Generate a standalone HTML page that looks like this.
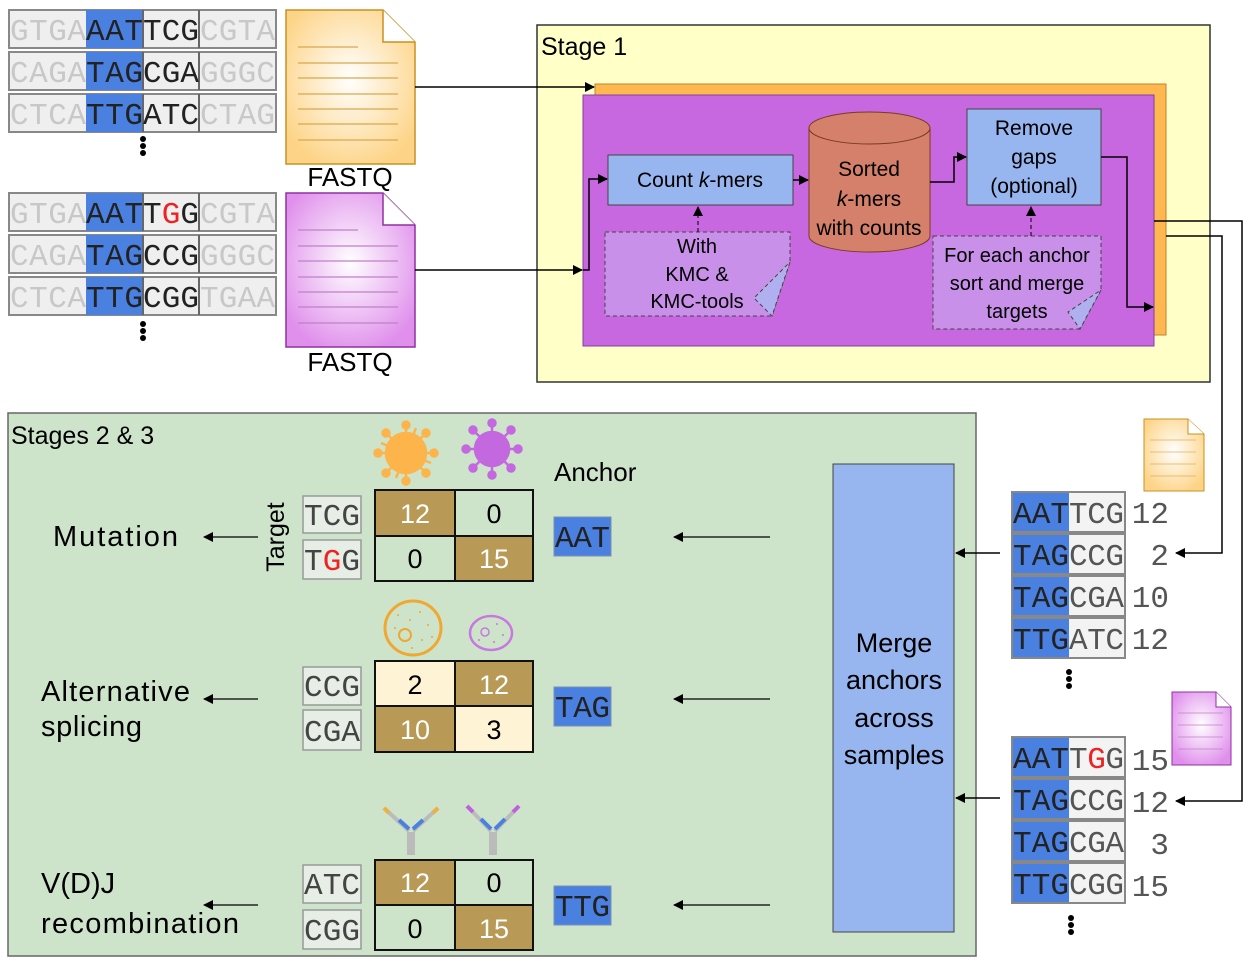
<!DOCTYPE html>
<html><head><meta charset="utf-8"><style>
html,body{margin:0;padding:0;background:#fff}
svg{display:block}
.m{font-family:"Liberation Mono",monospace;font-size:31px}
.s{font-family:"Liberation Sans",sans-serif}
</style></head><body>
<svg width="1259" height="978" viewBox="0 0 1259 978" xmlns="http://www.w3.org/2000/svg">
<defs>
<marker id="a" markerWidth="10" markerHeight="10" refX="9" refY="5" orient="auto" markerUnits="userSpaceOnUse"><path d="M0,0 L10,5 L0,10z" fill="#000"/></marker>
<radialGradient id="go" cx="0.5" cy="0.45" r="0.6"><stop offset="0" stop-color="#fff"/><stop offset="1" stop-color="#fdd487"/></radialGradient>
<radialGradient id="gp" cx="0.5" cy="0.45" r="0.6"><stop offset="0" stop-color="#fff"/><stop offset="1" stop-color="#e090ec"/></radialGradient>
</defs>

<!-- left sequence tables -->
<g class="m" stroke="#888" stroke-width="2">
<g fill="#efefef"><rect x="9" y="10" width="267" height="38"/><rect x="9" y="52" width="267" height="38"/><rect x="9" y="94" width="267" height="38"/>
<rect x="9" y="193" width="267" height="38"/><rect x="9" y="235" width="267" height="38"/><rect x="9" y="277" width="267" height="38"/></g>
<g fill="#4a80e0" stroke="none"><rect x="86" y="10" width="57" height="38"/><rect x="86" y="52" width="57" height="38"/><rect x="86" y="94" width="57" height="38"/>
<rect x="86" y="193" width="57" height="38"/><rect x="86" y="235" width="57" height="38"/><rect x="86" y="277" width="57" height="38"/></g>
<path d="M143 10V48M199 10V48M143 52V90M199 52V90M143 94V132M199 94V132M143 193V231M199 193V231M143 235V273M199 235V273M143 277V315M199 277V315" stroke="#666"/>
</g>
<g class="m" stroke="none">
<g fill="#c8c8c8"><text x="10" y="40" textLength="76">GTGA</text><text x="200" y="40" textLength="75">CGTA</text>
<text x="10" y="82" textLength="76">CAGA</text><text x="200" y="82" textLength="75">GGGC</text>
<text x="10" y="124" textLength="76">CTCA</text><text x="200" y="124" textLength="75">CTAG</text>
<text x="10" y="223" textLength="76">GTGA</text><text x="200" y="223" textLength="75">CGTA</text>
<text x="10" y="265" textLength="76">CAGA</text><text x="200" y="265" textLength="75">GGGC</text>
<text x="10" y="307" textLength="76">CTCA</text><text x="200" y="307" textLength="75">TGAA</text></g>
<g fill="#222"><text x="86" y="40" textLength="57">AAT</text><text x="143" y="40" textLength="56">TCG</text>
<text x="86" y="82" textLength="57">TAG</text><text x="143" y="82" textLength="56">CGA</text>
<text x="86" y="124" textLength="57">TTG</text><text x="143" y="124" textLength="56">ATC</text>
<text x="86" y="223" textLength="57">AAT</text><text x="143" y="223" textLength="56">T<tspan fill="#e22">G</tspan>G</text>
<text x="86" y="265" textLength="57">TAG</text><text x="143" y="265" textLength="56">CCG</text>
<text x="86" y="307" textLength="57">TTG</text><text x="143" y="307" textLength="56">CGG</text></g>
</g>
<g fill="#000"><circle cx="143" cy="139" r="3"/><circle cx="143" cy="146" r="3"/><circle cx="143" cy="153" r="3"/>
<circle cx="143" cy="324" r="3"/><circle cx="143" cy="331" r="3"/><circle cx="143" cy="338" r="3"/></g>

<!-- FASTQ docs -->
<path d="M286 10H383L415 42V164H286Z" fill="url(#go)" stroke="#c89020" stroke-width="1.5"/>
<path d="M383 10V42H415" fill="#fff" stroke="#c89020" stroke-width="1.5"/>
<g stroke="#d8a850" stroke-width="1.2"><path d="M298 47H358M298 63H398M298 78H398M298 94H398M298 109H398M298 124H398M298 140H398"/></g>
<text x="350" y="186" class="s" font-size="26" text-anchor="middle">FASTQ</text>
<path d="M286 193H383L415 225V347H286Z" fill="url(#gp)" stroke="#9030a0" stroke-width="1.5"/>
<path d="M383 193V225H415" fill="#fff" stroke="#9030a0" stroke-width="1.5"/>
<g stroke="#c080c8" stroke-width="1.2"><path d="M298 230H358M298 246H398M298 261H398M298 277H398M298 292H398M298 307H398M298 323H398"/></g>
<text x="350" y="371" class="s" font-size="26" text-anchor="middle">FASTQ</text>

<!-- Stage 1 -->
<rect x="537" y="25" width="673" height="357" fill="#ffffc8" stroke="#333" stroke-width="1.5"/>
<text x="541" y="55" class="s" font-size="25">Stage 1</text>
<rect x="595" y="84" width="571" height="251" fill="#ffb850" stroke="#c08030"/>
<rect x="583" y="95" width="571" height="251" fill="#c868e0" stroke="#8040a0"/>
<path d="M415 87H594" stroke="#000" stroke-width="1.5" fill="none" marker-end="url(#a)"/>
<path d="M415 270H582" stroke="#000" stroke-width="1.5" fill="none" marker-end="url(#a)"/>
<path d="M583 270H589V179H607" stroke="#000" stroke-width="1.5" fill="none" marker-end="url(#a)"/>
<rect x="608" y="155" width="185" height="50" fill="#97b5ee" stroke="#444"/>
<text x="700" y="187" class="s" font-size="21" text-anchor="middle">Count <tspan font-style="italic">k</tspan>-mers</text>
<path d="M793 180H808" stroke="#000" stroke-width="1.5" marker-end="url(#a)"/>
<path d="M809 128V236A60.5 16 0 0 0 930 236V128" fill="#d5806a" stroke="#7a3a20"/>
<ellipse cx="869.5" cy="128" rx="60.5" ry="16" fill="#d5806a" stroke="#7a3a20"/>
<text x="869" y="176" class="s" font-size="21" text-anchor="middle">Sorted</text>
<text x="869" y="206" class="s" font-size="21" text-anchor="middle"><tspan font-style="italic">k</tspan>-mers</text>
<text x="869" y="235" class="s" font-size="21" text-anchor="middle">with counts</text>
<path d="M930 182H954V157H966" stroke="#000" stroke-width="1.5" fill="none" marker-end="url(#a)"/>
<rect x="967" y="109" width="134" height="96" fill="#97b5ee" stroke="#444"/>
<text x="1034" y="135" class="s" font-size="21" text-anchor="middle">Remove</text>
<text x="1034" y="164" class="s" font-size="21" text-anchor="middle">gaps</text>
<text x="1034" y="193" class="s" font-size="21" text-anchor="middle">(optional)</text>
<path d="M1101 157H1127V307H1153" stroke="#000" stroke-width="1.5" fill="none" marker-end="url(#a)"/>
<path d="M605 232H790V262L772 316H605Z" fill="#c890e8" stroke="#444" stroke-dasharray="4,3"/>
<path d="M790 262L772 316L754 298Z" fill="#b0b0f0" stroke="#444" stroke-dasharray="4,3"/>
<text x="697" y="253" class="s" font-size="20" text-anchor="middle">With</text>
<text x="697" y="281" class="s" font-size="20" text-anchor="middle">KMC &amp;</text>
<text x="697" y="308" class="s" font-size="20" text-anchor="middle">KMC-tools</text>
<path d="M698 232V207" stroke="#000" stroke-dasharray="4,3" marker-end="url(#a)"/>
<path d="M933 236H1101V290L1080 329H933Z" fill="#c890e8" stroke="#444" stroke-dasharray="4,3"/>
<path d="M1101 290L1080 329L1068 312Z" fill="#b0b0f0" stroke="#444" stroke-dasharray="4,3"/>
<text x="1017" y="262" class="s" font-size="20" text-anchor="middle">For each anchor</text>
<text x="1017" y="290" class="s" font-size="20" text-anchor="middle">sort and merge</text>
<text x="1017" y="318" class="s" font-size="20" text-anchor="middle">targets</text>
<path d="M1031 236V207" stroke="#000" stroke-dasharray="4,3" marker-end="url(#a)"/>

<!-- output lines -->
<path d="M1154 221H1242V801H1176" stroke="#000" stroke-width="1.5" fill="none" marker-end="url(#a)"/>
<path d="M1166 236H1222V553H1176" stroke="#000" stroke-width="1.5" fill="none" marker-end="url(#a)"/>

<!-- Stages 2 & 3 -->
<rect x="8" y="413" width="968" height="543" fill="#cde4cb" stroke="#666" stroke-width="1.5"/>
<text x="11" y="444" class="s" font-size="25">Stages 2 &amp; 3</text>
<rect x="833" y="464" width="121" height="468" fill="#97b5ee" stroke="#444"/>
<g class="s" font-size="27" text-anchor="middle"><text x="894" y="652">Merge</text><text x="894" y="689">anchors</text><text x="894" y="727">across</text><text x="894" y="764">samples</text></g>
<path d="M1000 553H956" stroke="#000" stroke-width="1.5" marker-end="url(#a)"/>
<path d="M1000 798H956" stroke="#000" stroke-width="1.5" marker-end="url(#a)"/>

<!-- right tables -->
<g stroke="#888" stroke-width="2">
<g fill="#f3f3f3"><rect x="1012" y="492" width="113" height="40"/><rect x="1012" y="534" width="113" height="40"/><rect x="1012" y="576" width="113" height="40"/><rect x="1012" y="618" width="113" height="40"/>
<rect x="1012" y="737" width="113" height="40"/><rect x="1012" y="779" width="113" height="40"/><rect x="1012" y="821" width="113" height="40"/><rect x="1012" y="863" width="113" height="40"/></g>
</g>
<g fill="#4a80e0"><rect x="1013" y="493" width="56" height="38"/><rect x="1013" y="535" width="56" height="38"/><rect x="1013" y="577" width="56" height="38"/><rect x="1013" y="619" width="56" height="38"/>
<rect x="1013" y="738" width="56" height="38"/><rect x="1013" y="780" width="56" height="38"/><rect x="1013" y="822" width="56" height="38"/><rect x="1013" y="864" width="56" height="38"/></g>
<g class="m">
<g fill="#222"><text x="1013" y="523" textLength="56">AAT</text><text x="1013" y="565" textLength="56">TAG</text><text x="1013" y="607" textLength="56">TAG</text><text x="1013" y="649" textLength="56">TTG</text>
<text x="1013" y="768" textLength="56">AAT</text><text x="1013" y="810" textLength="56">TAG</text><text x="1013" y="852" textLength="56">TAG</text><text x="1013" y="894" textLength="56">TTG</text></g>
<g fill="#555"><text x="1069" y="523" textLength="55">TCG</text><text x="1069" y="565" textLength="55">CCG</text><text x="1069" y="607" textLength="55">CGA</text><text x="1069" y="649" textLength="55">ATC</text>
<text x="1069" y="768" textLength="55">T<tspan fill="#e22">G</tspan>G</text><text x="1069" y="810" textLength="55">CCG</text><text x="1069" y="852" textLength="55">CGA</text><text x="1069" y="894" textLength="55">CGG</text></g>
<g fill="#555" text-anchor="end"><text x="1169" y="523">12</text><text x="1169" y="565">2</text><text x="1169" y="607">10</text><text x="1169" y="649">12</text>
<text x="1169" y="770">15</text><text x="1169" y="812">12</text><text x="1169" y="854">3</text><text x="1169" y="896">15</text></g>
</g>
<g fill="#000"><circle cx="1069" cy="672" r="3"/><circle cx="1069" cy="679" r="3"/><circle cx="1069" cy="686" r="3"/>
<circle cx="1071" cy="918" r="3"/><circle cx="1071" cy="925" r="3"/><circle cx="1071" cy="932" r="3"/></g>
<!-- small docs -->
<path d="M1144 419H1188L1204 434V491H1144Z" fill="url(#go)" stroke="#c89020"/>
<path d="M1188 419V434H1204" fill="#fff" stroke="#c89020"/>
<path d="M1150 440H1196M1150 452H1196M1150 464H1196M1150 476H1196" stroke="#e0b060" stroke-width="0.8"/>
<path d="M1172 692H1216L1231 707V765H1172Z" fill="url(#gp)" stroke="#9030a0"/>
<path d="M1216 692V707H1231" fill="#fff" stroke="#9030a0"/>
<path d="M1178 713H1223M1178 725H1223M1178 737H1223M1178 749H1223" stroke="#c080c8" stroke-width="0.8"/>

<!-- Mutation / splicing / VDJ labels -->
<g class="s" font-size="29"><text x="53" y="546" textLength="125">Mutation</text><text x="41" y="701" textLength="149">Alternative</text><text x="41" y="736" textLength="101">splicing</text><text x="41" y="893">V(D)J</text><text x="41" y="933" textLength="198">recombination</text></g>
<g stroke="#000" stroke-width="1.2">
<path d="M258 537H204" marker-end="url(#a)"/><path d="M258 699H204" marker-end="url(#a)"/><path d="M258 905H204" marker-end="url(#a)"/>
<path d="M770 537H674" marker-end="url(#a)"/><path d="M770 699H674" marker-end="url(#a)"/><path d="M770 905H674" marker-end="url(#a)"/>
</g>
<text class="s" font-size="25" transform="translate(284,537) rotate(-90)" text-anchor="middle">Target</text>
<text x="554" y="481" class="s" font-size="26">Anchor</text>

<!-- target boxes -->
<g fill="#e6eee6" stroke="#999" stroke-width="1.5">
<rect x="303" y="496" width="58" height="37"/><rect x="303" y="540" width="58" height="39"/>
<rect x="303" y="667" width="58" height="38"/><rect x="303" y="710" width="58" height="40"/>
<rect x="303" y="865" width="58" height="38"/><rect x="303" y="910" width="58" height="39"/></g>
<g class="m" fill="#444"><text x="304" y="525" textLength="56">TCG</text><text x="304" y="570" textLength="56">T<tspan fill="#e22">G</tspan>G</text>
<text x="304" y="696" textLength="56">CCG</text><text x="304" y="741" textLength="56">CGA</text>
<text x="304" y="894" textLength="56">ATC</text><text x="304" y="940" textLength="56">CGG</text></g>

<!-- matrices -->
<g stroke="#111" stroke-width="2">
<rect x="375" y="490" width="80" height="46" fill="#b89a56"/><rect x="455" y="490" width="78" height="46" fill="#cde4cb"/>
<rect x="375" y="536" width="80" height="45" fill="#cde4cb"/><rect x="455" y="536" width="78" height="45" fill="#b89a56"/>
<rect x="375" y="661" width="80" height="45" fill="#fff3d6"/><rect x="455" y="661" width="78" height="45" fill="#b89a56"/>
<rect x="375" y="706" width="80" height="46" fill="#b89a56"/><rect x="455" y="706" width="78" height="46" fill="#fff3d6"/>
<rect x="375" y="860" width="80" height="45" fill="#b89a56"/><rect x="455" y="860" width="78" height="45" fill="#cde4cb"/>
<rect x="375" y="905" width="80" height="45" fill="#cde4cb"/><rect x="455" y="905" width="78" height="45" fill="#b89a56"/></g>
<g class="s" font-size="27" text-anchor="middle">
<text x="415" y="523" fill="#fff">12</text><text x="494" y="523">0</text><text x="415" y="568">0</text><text x="494" y="568" fill="#fff">15</text>
<text x="415" y="694">2</text><text x="494" y="694" fill="#fff">12</text><text x="415" y="739" fill="#fff">10</text><text x="494" y="739">3</text>
<text x="415" y="892" fill="#fff">12</text><text x="494" y="892">0</text><text x="415" y="938">0</text><text x="494" y="938" fill="#fff">15</text></g>

<!-- anchors -->
<g fill="#4a80e0" stroke="#7a90b0"><rect x="554" y="517" width="57" height="39"/><rect x="554" y="687" width="57" height="39"/><rect x="554" y="886" width="57" height="39"/></g>
<g class="m" fill="#222"><text x="555" y="547" textLength="55">AAT</text><text x="555" y="717" textLength="55">TAG</text><text x="555" y="916" textLength="55">TTG</text></g>

<!-- viruses -->
<g fill="#fdb44b" stroke="#fdb44b" stroke-width="2.5">
<circle cx="406" cy="453" r="20"/>
<path d="M406 453L406 426M406 453L425 434M406 453L433 453M406 453L425 472M406 453L406 480M406 453L387 472M406 453L379 453M406 453L387 434M406 453L416 428M406 453L431 463M406 453L396 478M406 453L381 443"/>
<circle cx="406" cy="425" r="3.5"/><circle cx="426" cy="433" r="3.5"/><circle cx="434" cy="453" r="3.5"/><circle cx="426" cy="473" r="3.5"/><circle cx="406" cy="481" r="3.5"/><circle cx="386" cy="473" r="3.5"/><circle cx="378" cy="453" r="3.5"/><circle cx="386" cy="433" r="3.5"/></g>
<g fill="#c468e0" stroke="#c468e0" stroke-width="2.5">
<circle cx="492" cy="449" r="17"/>
<path d="M492 449L492 424M492 449L510 431M492 449L517 449M492 449L510 467M492 449L492 474M492 449L474 467M492 449L467 449M492 449L474 431"/>
<circle cx="492" cy="423" r="3.5"/><circle cx="511" cy="430" r="3.5"/><circle cx="518" cy="449" r="3.5"/><circle cx="511" cy="468" r="3.5"/><circle cx="492" cy="475" r="3.5"/><circle cx="473" cy="468" r="3.5"/><circle cx="466" cy="449" r="3.5"/><circle cx="473" cy="430" r="3.5"/></g>
<!-- cells -->
<ellipse cx="413" cy="628" rx="28" ry="27" fill="none" stroke="#f0a830" stroke-width="3"/>
<circle cx="405" cy="635" r="6" fill="none" stroke="#f0a830" stroke-width="2"/>
<g fill="#f0a830"><circle cx="398" cy="615" r="1"/><circle cx="420" cy="612" r="1"/><circle cx="428" cy="625" r="1"/><circle cx="422" cy="640" r="1"/><circle cx="412" cy="648" r="1"/><circle cx="395" cy="628" r="1"/><circle cx="432" cy="637" r="1"/><circle cx="410" cy="620" r="1"/></g>
<ellipse cx="491" cy="633" rx="21" ry="17" fill="none" stroke="#c878e0" stroke-width="2.5"/>
<circle cx="485" cy="632" r="4" fill="none" stroke="#c878e0" stroke-width="1.5"/>
<g fill="#c878e0"><circle cx="497" cy="624" r="1"/><circle cx="503" cy="635" r="1"/><circle cx="494" cy="642" r="1"/><circle cx="479" cy="640" r="1"/></g>
<!-- antibodies -->
<g stroke-width="4" fill="none">
<path d="M409 832V855M413 832V855" stroke="#bbb"/>
<path d="M409 831L384 808M413 831L438 808" stroke="#bbb"/>
<path d="M409 829L399 820M413 829L423 820" stroke="#4a80e0"/>
<path d="M389 813L384 808M433 813L438 808" stroke="#f0b040"/>
<path d="M491 832V855M495 832V855" stroke="#bbb"/>
<path d="M491 831L467 806M495 831L519 806" stroke="#bbb"/>
<path d="M491 829L481 819M495 829L505 819" stroke="#4a80e0"/>
<path d="M473 812L467 806M513 812L519 806" stroke="#c060e0"/>
</g>
</svg>
</body></html>
